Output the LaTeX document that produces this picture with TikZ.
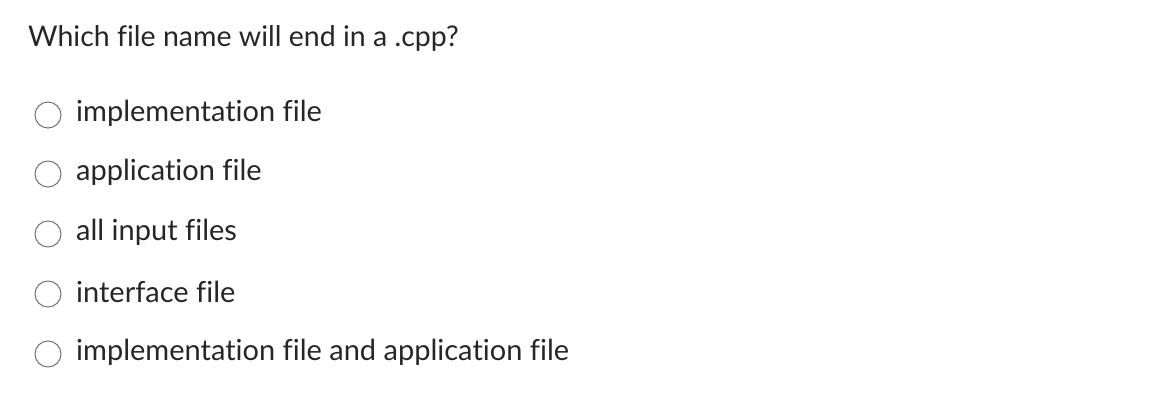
\documentclass[tikz,border=0pt]{standalone}
\usepackage{fontspec}
\setmainfont{Lato}[Ligatures=NoCommon]
\begin{document}
\begin{tikzpicture}[x=1pt,y=-1pt,
  opt/.style={anchor=west,inner sep=0pt,font=\fontsize{29}{33}\selectfont,text=black!85},
  radio/.style={circle,draw=black!55,line width=1pt,minimum size=26pt,inner sep=0pt}]
\useasboundingbox (0,0) rectangle (1170,406);
\node[anchor=west,inner sep=0pt,font=\fontsize{28.5}{33}\selectfont,text=black!85] (q) at (28,38) {Which file name will end in a .cpp?};
\foreach \i/\y/\t in {1/115/implementation file,2/174/application file,3/234/all input files,4/294/interface file,5/354/implementation file and application file}{
  \node[radio] (r\i) at (48,\y) {};
  \node[opt] (t\i) at (76,\y-2) {\t};
}
\end{tikzpicture}
\end{document}
